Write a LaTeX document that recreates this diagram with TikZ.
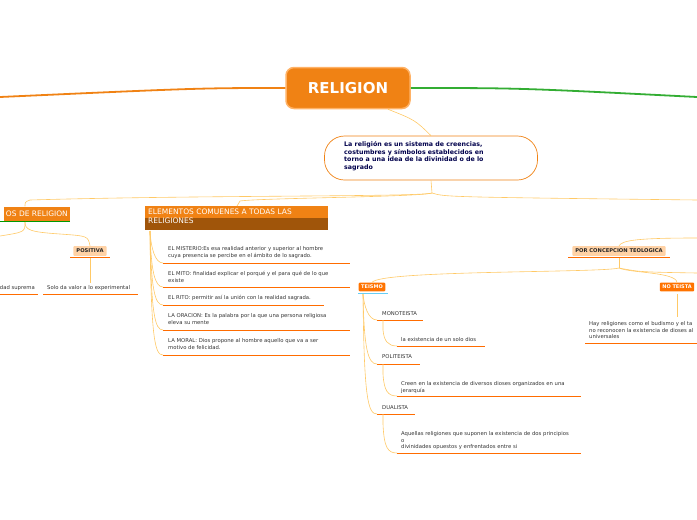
\documentclass[tikz,border=0pt]{standalone}
\usepackage{fontspec}
\setmainfont{DejaVu Sans}
\begin{document}
\begin{tikzpicture}[x=1pt,y=-1pt,
  lnk/.style={draw=orange!70!yellow!60, line width=0.6pt},
  ul/.style={draw=orange!85!red, line width=1pt},
  txt/.style={font=\fontsize{5.3}{6.8}\selectfont, text=black!80, anchor=north west, inner sep=0, align=left},
  orbox/.style={fill=orange!90!red, text=white, font=\fontsize{5}{6}\selectfont\bfseries, rounded corners=1pt, inner sep=2.5pt},
  pebox/.style={fill=orange!35, text=black!85, font=\fontsize{5.2}{6}\selectfont\bfseries, rounded corners=1pt, inner sep=3pt}]
\useasboundingbox (0,0) rectangle (697,520);
\definecolor{topor}{RGB}{240,130,20}
\definecolor{brn}{RGB}{160,85,10}
% root
\node[fill=topor, draw=orange!60, line width=1.5pt, rounded corners=8pt, minimum width=124pt, minimum height=41pt, text=white, font=\fontsize{15}{16}\selectfont\bfseries] (root) at (348,88) {RELIGION};
\coordinate (lend) at (0,97);
\coordinate (rend) at (697,97);
\draw[draw=topor, line width=1.8pt] (root.west) .. controls (200,88) .. (lend);
\draw[draw=green!60!black!80, line width=1.8pt] (root.east) .. controls (520,88) .. (rend);
% definition
\node[draw=topor, line width=0.7pt, rounded corners=20pt, minimum width=213pt, minimum height=44pt, fill=white] (def) at (431,158) {};
\node[anchor=north west, inner sep=0, align=left, font=\fontsize{6.3}{7.8}\selectfont\bfseries, text=blue!30!black] (deft) at (344,141) {La religión es un sistema de creencias,\\costumbres y símbolos establecidos en\\torno a una idea de la divinidad o de lo\\sagrado};
\draw[lnk] (root.south) ++(40,0) coordinate (rs) .. controls (415,120) .. (def.north);
% hub lines
\coordinate (hub) at (432,193);
\draw[lnk] (def.south) -- (hub);
\coordinate (rightE) at (697,200);
% tipos
\node[fill=topor, text=white, font=\fontsize{7.5}{8}\selectfont, anchor=east, inner sep=2pt, minimum height=15pt] (tipos) at (70,214) {OS DE RELIGION};
\draw[green!60!black, line width=0.8pt] (0,221.5) -- (70,221.5);
\draw[lnk] (hub) .. controls (420,197) and (200,195) .. (30,200) .. controls (25,202) .. (tipos.north -| 25,0);
% elementos
\node[anchor=north west, fill=topor, minimum width=183pt, minimum height=24pt, inner sep=0] (elem) at (145,206) {};
\fill[brn] (145,218) rectangle (328,230);
\node[txt, text=white, font=\fontsize{7.5}{8.5}\selectfont] (elemt) at (148,209) {ELEMENTOS COMUENES A TODAS LAS\\RELIGIONES};
\draw[lnk] (hub) .. controls (420,197) and (260,198) .. (240,201) -- (237,206);
% right branch
\draw[lnk] (hub) .. controls (445,197) .. (rightE);
% tipos children
\node[pebox] (pos) at (90,251) {POSITIVA};
\draw[ul] (70,257.5) -- (110,257.5);
\draw[lnk] (25,222) .. controls (25,230) and (30,232) .. (60,234) .. controls (88,236) .. (pos.north);
\draw[lnk] (25,222) .. controls (25,232) .. (0,236);
\node[txt] (sol) at (47,285) {Solo da valor a lo experimental};
\draw[ul] (43,294) -- (138,294);
\draw[lnk] (90,258) -- (90,283);
\node[txt, anchor=north east] (ids) at (35,285) {idad suprema};
\draw[ul] (0,294) -- (38,294);
% elementos items
\coordinate (es) at (150,231);
\node[txt] (e1) at (168,246) {EL MISTERIO:Es esa realidad anterior y superior al hombre\\cuya presencia se percibe en el ámbito de lo sagrado.};
\node[txt] (e2) at (168,271) {EL MITO: finalidad explicar el porqué y el para qué de lo que\\existe};
\node[txt] (e3) at (168,295) {EL RITO: permitir así la unión con la realidad sagrada.};
\node[txt] (e4) at (168,313) {LA ORACION: Es la palabra por la que una persona religiosa\\eleva su mente};
\node[txt] (e5) at (168,338) {LA MORAL: Dios propone al hombre aquello que va a ser\\motivo de felicidad.};
\foreach \y/\xe in {263/350, 287/350, 305/324, 330/350, 355/350} {
  \draw[ul] (163,\y) -- (\xe,\y);
  \draw[lnk] (es) .. controls (151,\y-15) and (155,\y) .. (163,\y);
}
% por concepcion
\node[pebox] (pct) at (619,251) {POR CONCEPCION TEOLOGICA};
\draw[ul] (568,257.5) -- (670,257.5);
\draw[lnk] (697,238) .. controls (640,238) and (622,240) .. (pct.north);
\coordinate (ph) at (619,268);
\draw[lnk] (619,258) -- (ph);
\node[orbox] (teis) at (372,287) {TEISMO};
\draw[cyan!60, line width=0.8pt] (358,293.5) -- (388,293.5);
\node[orbox] (nteis) at (677,287) {NO TEISTA};
\draw[lnk] (ph) .. controls (600,273) and (380,270) .. (teis.north);
\draw[lnk] (ph) .. controls (630,273) and (676,272) .. (nteis.north);
\draw[lnk] (ph) .. controls (640,272) .. (697,273);
\node[txt] (hay) at (589,321) {Hay religiones como el budismo y el ta\\no reconocen la existencia de dioses al\\universales};
\draw[ul] (585,343) -- (697,343);
\draw[lnk] (677,294) -- (677,317);
% teismo children
\coordinate (ts) at (363,294);
\node[txt] (mono) at (382,311) {MONOTEISTA};
\node[txt] (poli) at (382,354) {POLITEISTA};
\node[txt] (dual) at (382,405) {DUALISTA};
\foreach \y/\xe in {320/423, 364/420, 414/415} {
  \draw[ul] (377,\y) -- (\xe,\y);
  \draw[lnk] (ts) .. controls (364,\y-15) and (368,\y) .. (377,\y);
}
\node[txt] (m1) at (401,337) {la existencia de un solo dios};
\node[txt] (p1) at (401,381) {Creen en la existencia de diversos dioses organizados en una\\jerarquía};
\node[txt] (d1) at (401,431) {Aquellas religiones que suponen la existencia de dos principios\\o\\ divinidades opuestos y enfrentados entre si};
\foreach \ys/\y/\xe in {320/346/485, 364/396/581, 414/453/581} {
  \draw[ul] (397,\y) -- (\xe,\y);
  \draw[lnk] (383,\ys) -- (383,\ys+10) .. controls (384,\y-5) and (388,\y) .. (397,\y);
}
\end{tikzpicture}
\end{document}
